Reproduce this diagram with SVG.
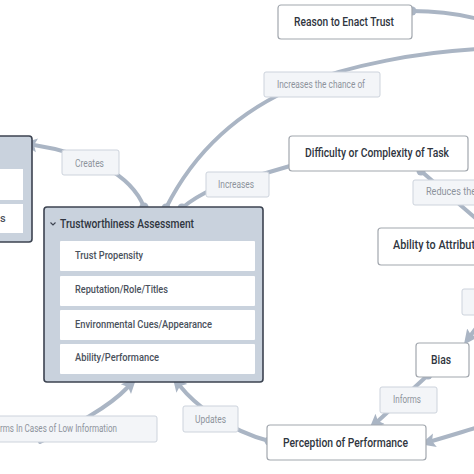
<svg xmlns="http://www.w3.org/2000/svg" width="474" height="474" viewBox="0 0 474 474">
<style>
.bg{fill:#ffffff}
.edge{fill:none;stroke:#aab5c4;stroke-width:4;stroke-linecap:round}
.dot{fill:#aab5c4}
.node{fill:#ffffff;stroke:#a2a7ae;stroke-width:1.2}
.group{fill:#c9d2dd;stroke:#3c4350;stroke-width:1.6}
.item{fill:#ffffff}
.lbl{fill:#f3f5f8;stroke:#cdd3dc;stroke-width:1}
.nt{font-family:Roboto,"Liberation Sans",sans-serif;font-size:12px;font-weight:500;fill:#2f3540}
.it{font-family:Roboto,"Liberation Sans",sans-serif;font-size:11px;font-weight:500;fill:#4a515c}
.lt{font-family:Roboto,"Liberation Sans",sans-serif;font-size:10px;fill:#8d939c}
</style>
<defs>
<marker id="ah" markerUnits="userSpaceOnUse" markerWidth="20" markerHeight="20" refX="3" refY="8" orient="auto">
<path d="M0,1 L15,8 L0,15 L3,8 z" fill="#aab5c4"/>
</marker>
</defs>
<rect class="bg" x="0" y="0" width="474" height="474"/>
<g id="connectors">
<path class="edge" d="M144,207 C138,192 125,178 105,167 C85,157 60,149 34,145" marker-end="url(#ah)"/>
<path class="edge" d="M166,208 C195,150 240,110 300,85 C350,65 420,52 480,49"/>
<path class="edge" d="M182,208 Q195,197 215,188 L290,166"/>
<path class="edge" d="M412,11 C440,11 460,14 482,20"/>
<path class="edge" d="M421,171 L480,222"/>
<path class="edge" d="M482,320 L471,335" marker-end="url(#ah)"/>
<path class="edge" d="M428,375 L378,421" marker-end="url(#ah)"/>
<path class="edge" d="M482,426 C462,432 446,437 432,441" marker-end="url(#ah)"/>
<path class="edge" d="M269,441 C250,436 232,428 212,415 C198,405 188,396 180,386" marker-end="url(#ah)"/>
<path class="edge" d="M40,442 C75,425 108,408 128,387" marker-end="url(#ah)"/>
<circle class="dot" cx="144" cy="207" r="4.5"/>
<circle class="dot" cx="166" cy="208" r="4.5"/>
<circle class="dot" cx="182" cy="208" r="4.5"/>
<circle class="dot" cx="412" cy="11" r="4.5"/>
<circle class="dot" cx="421" cy="171" r="4.5"/>
<circle class="dot" cx="428" cy="375" r="4.5"/>
<circle class="dot" cx="269" cy="441" r="4.5"/>
</g>
<g id="node-left">
<rect class="group" x="-10" y="136" width="42" height="106" rx="3"/>
<rect class="item" x="-10" y="169" width="33" height="31"/>
<rect class="item" x="-10" y="204" width="33" height="29"/>
<text class="it" x="0" y="222">s</text>
</g>
<g id="node-trust">
<rect class="group" x="44" y="207" width="219" height="175" rx="3"/>
<path d="M50.5,222.5 L53,225 L55.5,222.5" fill="none" stroke="#3c4350" stroke-width="1.1"/>
<text class="nt" x="60" y="228" textLength="134" lengthAdjust="spacingAndGlyphs">Trustworthiness Assessment</text>
<rect class="item" x="60" y="241" width="195" height="30" rx="1"/>
<rect class="item" x="60" y="276" width="195" height="30" rx="1"/>
<rect class="item" x="60" y="310" width="195" height="30" rx="1"/>
<rect class="item" x="60" y="344" width="195" height="30" rx="1"/>
<text class="it" x="75" y="259" textLength="68" lengthAdjust="spacingAndGlyphs">Trust Propensity</text>
<text class="it" x="75" y="293" textLength="93" lengthAdjust="spacingAndGlyphs">Reputation/Role/Titles</text>
<text class="it" x="75" y="328" textLength="137" lengthAdjust="spacingAndGlyphs">Environmental Cues/Appearance</text>
<text class="it" x="75" y="361" textLength="84" lengthAdjust="spacingAndGlyphs">Ability/Performance</text>
</g>
<g id="node-reason">
<rect class="node" x="278" y="5" width="134" height="34" rx="3"/>
<text class="nt" x="294" y="26" textLength="100" lengthAdjust="spacingAndGlyphs">Reason to Enact Trust</text>
</g>
<g id="node-difficulty">
<rect class="node" x="289" y="136" width="179" height="35" rx="3"/>
<text class="nt" x="305" y="157" textLength="144" lengthAdjust="spacingAndGlyphs">Difficulty or Complexity of Task</text>
</g>
<g id="node-ability">
<rect class="node" x="378" y="228" width="110" height="37" rx="3"/>
<text class="nt" x="393" y="249" textLength="82" lengthAdjust="spacingAndGlyphs">Ability to Attribut</text>
</g>
<g id="node-bias">
<rect class="node" x="416" y="343" width="53" height="34" rx="3"/>
<text class="nt" x="431" y="364" textLength="20" lengthAdjust="spacingAndGlyphs">Bias</text>
</g>
<g id="node-perception">
<rect class="node" x="267" y="425" width="159" height="35" rx="3"/>
<text class="nt" x="283" y="447" textLength="125" lengthAdjust="spacingAndGlyphs">Perception of Performance</text>
</g>
<g id="labels">
<g id="label-creates">
<rect class="lbl" x="62" y="150" width="57" height="25" rx="2"/>
<text class="lt" x="75" y="167" textLength="29" lengthAdjust="spacingAndGlyphs">Creates</text>
</g>
<g id="label-chance">
<rect class="lbl" x="264" y="72" width="116" height="25" rx="2"/>
<text class="lt" x="277" y="88" textLength="88" lengthAdjust="spacingAndGlyphs">Increases the chance of</text>
</g>
<g id="label-increases">
<rect class="lbl" x="206" y="172" width="63" height="25" rx="2"/>
<text class="lt" x="218" y="188" textLength="36" lengthAdjust="spacingAndGlyphs">Increases</text>
</g>
<g id="label-reduces">
<rect class="lbl" x="413" y="180" width="70" height="25" rx="2"/>
<text class="lt" x="426" y="195" textLength="50" lengthAdjust="spacingAndGlyphs">Reduces the</text>
</g>
<g id="label-right">
<rect class="lbl" x="462" y="289" width="20" height="26" rx="2"/>
</g>
<g id="label-informs">
<rect class="lbl" x="380" y="387" width="57" height="26" rx="2"/>
<text class="lt" x="393" y="403" textLength="28" lengthAdjust="spacingAndGlyphs">Informs</text>
</g>
<g id="label-updates">
<rect class="lbl" x="183" y="406" width="55" height="26" rx="2"/>
<text class="lt" x="195" y="423" textLength="31" lengthAdjust="spacingAndGlyphs">Updates</text>
</g>
<g id="label-lowinfo">
<rect class="lbl" x="-10" y="416" width="167" height="26" rx="2"/>
<text class="lt" x="0" y="432" textLength="117" lengthAdjust="spacingAndGlyphs">rms In Cases of Low Information</text>
</g>
</g>
</svg>
